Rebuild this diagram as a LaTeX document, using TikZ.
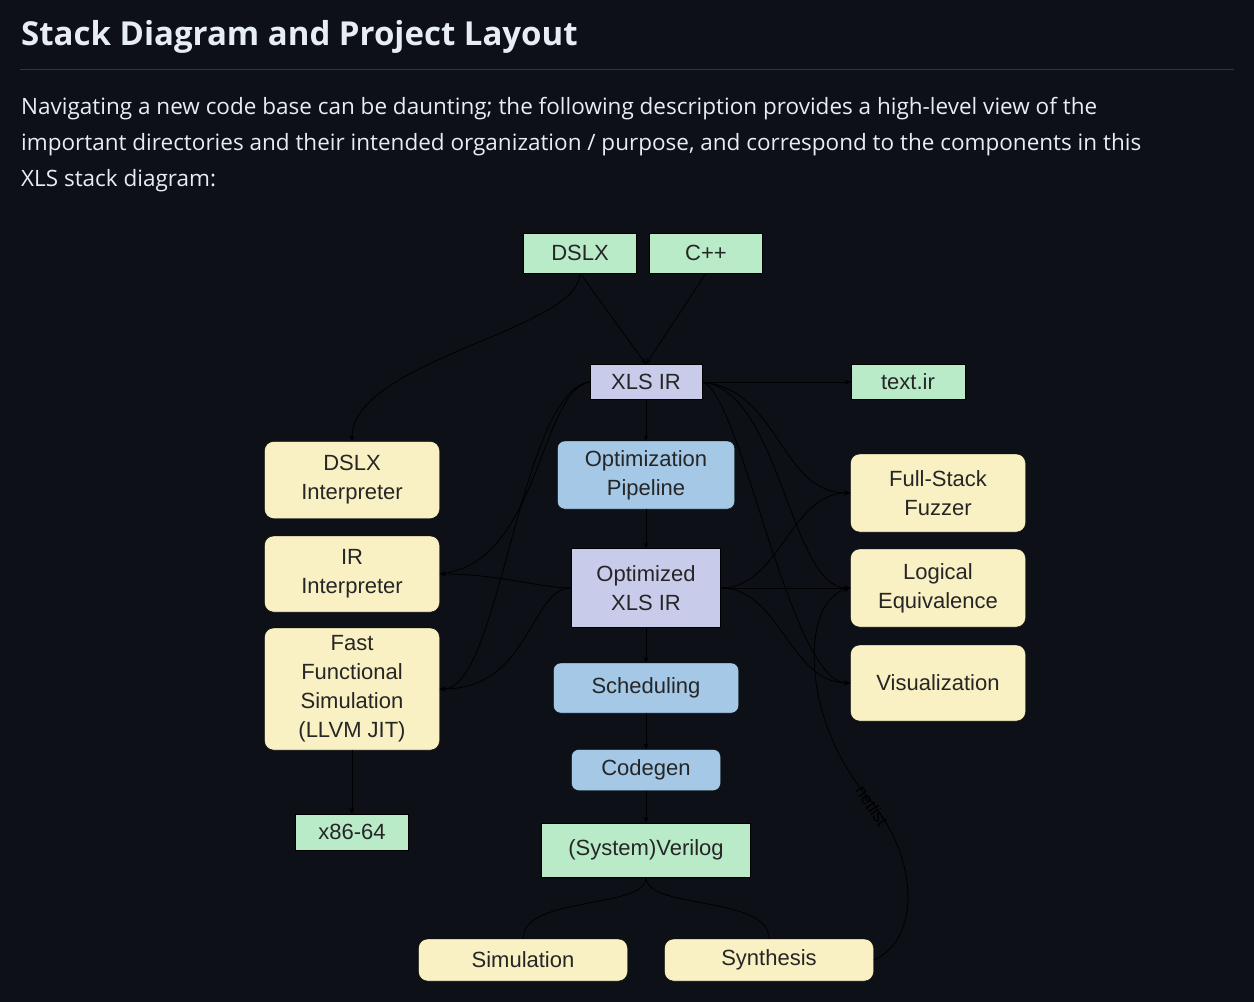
\documentclass[tikz,border=0pt]{standalone}
\usepackage{fontspec}
\setmainfont{Open Sans}
\newfontfamily\diag{Liberation Sans}
\usetikzlibrary{arrows.meta}
\definecolor{bg}{HTML}{0D1117}
\definecolor{fg}{HTML}{E6EDF3}
\definecolor{gr}{HTML}{B9EBC9}
\definecolor{pu}{HTML}{C9CBEB}
\definecolor{bl}{HTML}{A4C8E6}
\definecolor{ye}{HTML}{F9F0C3}
\definecolor{rl}{HTML}{30363D}
\tikzset{
 box/.style={draw=black,line width=0.4pt,minimum width=#1,align=center,font=\diag\fontsize{22}{29}\selectfont,text=black!85,inner sep=0pt},
 gbox/.style={box=#1,fill=gr},
 pbox/.style={box=#1,fill=pu},
 bbox/.style={box=#1,fill=bl,rounded corners=7pt},
 ybox/.style={box=#1,fill=ye,rounded corners=9pt},
 arr/.style={draw=black,line width=0.8pt,-{Stealth[length=6pt,width=5pt]}},
 ln/.style={draw=black,line width=0.8pt}
}
\begin{document}
\begin{tikzpicture}[x=1pt,y=-1pt]
\fill[bg] (0,0) rectangle (1254,1002);
\useasboundingbox (0,0) rectangle (1254,1002);
\node[anchor=west,text=fg,font=\bfseries\fontsize{33}{38}\selectfont,inner sep=0pt] (title) at (21,37) {Stack Diagram and Project Layout};
\draw[rl,line width=1pt] (20,69) -- (1234,69);
\node[anchor=north west,text=fg,align=left,font=\fontsize{22.5}{36}\selectfont,inner sep=0pt] (para) at (21,97) {Navigating a new code base can be daunting; the following description provides a high-level view of the\\important directories and their intended organization / purpose, and correspond to the components in this\\XLS stack diagram:};

\node[gbox=113pt,minimum height=40pt] (dslx) at (580,253) {DSLX};
\node[gbox=113pt,minimum height=40pt] (cpp) at (706,253) {C++};
\node[pbox=112pt,minimum height=35pt] (ir) at (646,382) {XLS IR};
\node[gbox=114pt,minimum height=35pt] (txt) at (908,382) {text.ir};
\node[bbox=177pt,minimum height=68pt] (opt) at (646,475) {Optimization\\Pipeline};
\node[pbox=149pt,minimum height=79pt] (oir) at (646,588) {Optimized\\XLS IR};
\node[bbox=185pt,minimum height=50pt] (sch) at (646,688) {Scheduling};
\node[bbox=149pt,minimum height=41pt] (cg) at (646,770) {Codegen};
\node[gbox=209pt,minimum height=54pt] (ver) at (646,850) {(System)Verilog};
\node[ybox=209pt,minimum height=42pt] (sim) at (523,960) {Simulation};
\node[ybox=209pt,minimum height=42pt] (syn) at (769,960) {Synthesis};
\node[ybox=175pt,minimum height=77pt] (di) at (352,480) {DSLX\\Interpreter};
\node[ybox=175pt,minimum height=76pt] (ii) at (352,574) {IR\\Interpreter};
\node[ybox=175pt,minimum height=122pt] (ff) at (352,689) {Fast\\Functional\\Simulation\\(LLVM JIT)};
\node[gbox=113pt,minimum height=36pt] (x86) at (352,832) {x86-64};
\node[ybox=175pt,minimum height=78pt] (fs) at (938,493) {Full-Stack\\Fuzzer};
\node[ybox=175pt,minimum height=78pt] (le) at (938,588) {Logical\\Equivalence};
\node[ybox=175pt,minimum height=76pt] (vis) at (938,683) {Visualization};

\draw[arr] (dslx.south) -- (ir.north);
\draw[arr] (cpp.south) -- (ir.north);
\draw[arr] (dslx.south) .. controls (580,330) and (352,360) .. (di.north);
\draw[arr] (ir.east) -- (txt.west);
\draw[arr] (ir) -- (opt);
\draw[arr] (opt) -- (oir);
\draw[arr] (oir) -- (sch);
\draw[arr] (sch) -- (cg);
\draw[arr] (cg) -- (ver);
\draw[arr] (ff) -- (x86);
\draw[arr] (ir.west) .. controls (540,390) and (540,560) .. (ii.east);
\draw[arr] (ir.west) .. controls (520,390) and (500,690) .. (ff.east);
\draw[arr] (ir.east) .. controls (780,390) and (780,493) .. (fs.west);
\draw[arr] (ir.east) .. controls (780,390) and (790,588) .. (le.west);
\draw[arr] (ir.east) .. controls (740,390) and (790,683) .. (vis.west);
\draw[arr] (oir.west) .. controls (540,588) and (500,574) .. (ii.east);
\draw[arr] (oir.west) .. controls (530,588) and (530,689) .. (ff.east);
\draw[arr] (oir.east) .. controls (780,588) and (790,493) .. (fs.west);
\draw[arr] (oir.east) -- (le.west);
\draw[arr] (oir.east) .. controls (780,588) and (790,683) .. (vis.west);
\draw[ln] (ver.south) .. controls (646,910) and (523,895) .. (sim.north);
\draw[ln] (ver.south) .. controls (646,910) and (769,895) .. (syn.north);
\draw[arr] (syn.east) .. controls (920,940) and (920,860) .. (870,800) .. controls (800,720) and (800,600) .. (le.west);
\node[rotate=-57,font=\diag\fontsize{17}{18}\selectfont,text=black] (nl) at (872,806) {netlist};
\end{tikzpicture}
\end{document}
